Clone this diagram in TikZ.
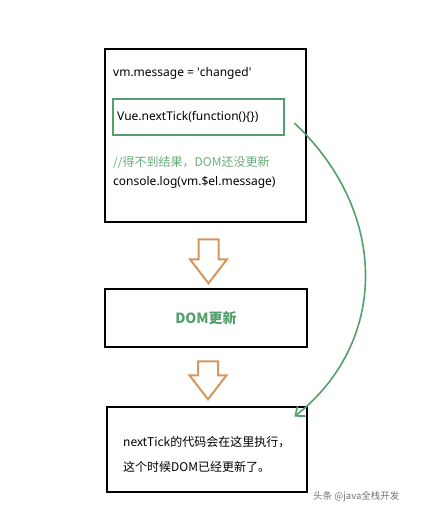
\documentclass[tikz,border=0pt]{standalone}
\usepackage{fontspec}
\setmainfont{Noto Sans CJK SC}
\newfontfamily\codefont{Noto Sans}
\usepackage{tikz}
\usetikzlibrary{calc, arrows.meta}

\definecolor{codegreen}{RGB}{84,160,108}
\definecolor{hintgreen}{RGB}{104,172,124}
\definecolor{arroworange}{RGB}{214,150,92}

\begin{document}
\begin{tikzpicture}[x=1pt, y=1pt,
		box/.style = {draw, line width=2.6pt, fill=white},
		codeline/.style = {anchor=west, inner sep=0pt, font=\fontsize{12}{14}\selectfont},
		hollow/.style = {draw=arroworange, line width=2pt, line join=miter, fill=white}]
	\useasboundingbox[fill=white] (0,0) rectangle (423,512);
	\node[box, minimum width=201, minimum height=173] (code) at (205.5,376.5) {};
	\node[draw=codegreen, line width=2.6pt, minimum width=171, minimum height=36] (nexttick) at (198.5,395) {};
	\node[codeline, font=\codefont\fontsize{12}{14}\selectfont] (msg) at (113,439) {vm.message = \textquotesingle changed\textquotesingle};
	\node[codeline, font=\codefont\fontsize{12}{14}\selectfont] (tick) at (117,395) {Vue.nextTick(function()\{\})};
	\node[codeline, text=hintgreen] (hint) at (113,349) {//得不到结果，DOM还没更新};
	\node[codeline, font=\codefont\fontsize{12}{14}\selectfont] (log) at (113,330) {console.log(vm.\$el.message)};
	\node[box, minimum width=202, minimum height=58] (dom) at (206,194) {};
	\node[text=codegreen, font=\fontsize{14}{16}\selectfont\bfseries] (domtext) at (dom) {DOM更新};
	\node[box, minimum width=200, minimum height=85] (result) at (207,62.5) {};
	\node[codeline] (res1) at (123,70) {nextTick的代码会在这里执行，};
	\node[codeline] (res2) at (123,45) {这个时候DOM已经更新了。};
	\node[anchor=west, inner sep=0pt, text=black!55, font=\fontsize{9.5}{11}\selectfont] (mark) at (313,15) {头条 @java全栈开发};
	\draw[hollow] ($(code.south)+(-7,-16)$) -- ++(20,0) -- ++(0,-20) -- ++(8.5,0) -- ++(-18.5,-24) -- ++(-18.5,24) -- ++(8.5,0) -- cycle;
	\draw[hollow] ($(dom.south)+(-8,-13)$) -- ++(20,0) -- ++(0,-14) -- ++(8.5,0) -- ++(-18.5,-24) -- ++(-18.5,24) -- ++(8.5,0) -- cycle;
	\coordinate (gostart) at ($(nexttick.east)+(9,-6)$);
	\coordinate (goend) at ($(result.north east)+(-14,-11)$);
	\draw[codegreen, line width=1.6pt, -{Straight Barb[length=8pt, width=13pt, line width=1.6pt]}] (gostart) .. controls (389,300) and (389,170) .. (goend);
\end{tikzpicture}
\end{document}
